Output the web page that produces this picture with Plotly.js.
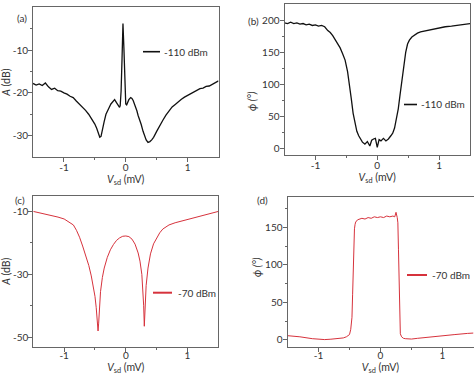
<!DOCTYPE html>
<html>
<head>
<meta charset="utf-8">
<script src="https://cdn.plot.ly/plotly-3.0.1.min.js"></script>
<style>html,body{margin:0;padding:0;background:#fff;}#chart{width:474px;height:375px;}</style>
</head>
<body>
<div id="chart"></div>
<script>
// ---- data ----
var xA = [-1.5,-1.45,-1.4,-1.35,-1.3,-1.25,-1.2,-1.15,-1.1,-1.05,-1.0,-0.95,-0.9,-0.85,-0.8,-0.75,-0.7,-0.65,-0.6,-0.55,-0.5,-0.47,-0.44,-0.42,-0.4,-0.38,-0.35,-0.32,-0.3,-0.27,-0.24,-0.21,-0.18,-0.15,-0.12,-0.1,-0.09,-0.075,-0.06,-0.045,-0.03,-0.015,0.0,0.015,0.03,0.05,0.08,0.1,0.12,0.15,0.18,0.2,0.22,0.25,0.28,0.3,0.33,0.36,0.39,0.42,0.45,0.5,0.55,0.6,0.65,0.7,0.75,0.8,0.85,0.9,0.95,1.0,1.05,1.1,1.15,1.2,1.25,1.3,1.35,1.4,1.45,1.5];
var yA = [-17.8,-18.2,-17.9,-18.3,-17.7,-18.6,-19.2,-18.9,-19.5,-19.6,-20.0,-20.3,-20.8,-21.1,-21.9,-22.6,-23.4,-24.1,-25.0,-26.1,-27.3,-28.3,-29.6,-30.4,-30.2,-28.6,-26.8,-25.0,-24.2,-23.5,-22.6,-22.0,-21.6,-22.3,-23.1,-23.4,-23.0,-19.5,-12.0,-3.8,-9.5,-17.5,-22.6,-22.8,-22.2,-21.6,-21.1,-21.3,-21.8,-22.8,-24.2,-25.3,-26.0,-27.4,-29.0,-30.0,-31.0,-31.6,-31.4,-31.0,-30.4,-29.0,-27.6,-26.4,-25.2,-24.1,-23.3,-22.7,-22.0,-21.5,-21.0,-20.6,-20.2,-19.9,-19.4,-19.0,-18.9,-18.5,-18.4,-18.0,-17.6,-17.2];

var xB = [-1.5,-1.45,-1.4,-1.35,-1.3,-1.25,-1.2,-1.15,-1.1,-1.05,-1.0,-0.95,-0.9,-0.85,-0.8,-0.76,-0.72,-0.68,-0.64,-0.6,-0.56,-0.52,-0.48,-0.45,-0.42,-0.39,-0.36,-0.33,-0.3,-0.27,-0.24,-0.2,-0.16,-0.12,-0.09,-0.06,-0.03,0.0,0.03,0.06,0.1,0.14,0.18,0.22,0.25,0.28,0.31,0.34,0.37,0.4,0.43,0.46,0.49,0.52,0.56,0.6,0.65,0.7,0.8,0.9,1.0,1.1,1.2,1.3,1.4,1.5];
var yB = [196,195,197,195,196,194,195,193,194,192,193,191,192,190,184,181,176,170,165,157,148,138,120,102,78,55,38,27,20,14,10,7,11,4,13,15,16,2,14,12,16,12,15,20,24,32,45,62,85,110,132,150,163,169,174,177,180,182,184,187,189,190,191,192,193,195];

var xC = [-1.5,-1.3,-1.1,-1.0,-0.9,-0.85,-0.8,-0.75,-0.7,-0.65,-0.6,-0.56,-0.53,-0.5,-0.48,-0.46,-0.45,-0.44,-0.43,-0.41,-0.38,-0.35,-0.3,-0.25,-0.2,-0.15,-0.1,-0.05,0.0,0.05,0.1,0.15,0.2,0.23,0.26,0.28,0.29,0.3,0.31,0.33,0.36,0.4,0.45,0.5,0.55,0.6,0.7,0.8,0.9,1.0,1.1,1.2,1.3,1.4,1.5];
var yC = [-10,-10.8,-11.8,-12.4,-13.5,-14.3,-16.0,-18.2,-21.0,-24.0,-27.2,-30.5,-33.5,-37.0,-40.5,-45.0,-48.0,-45.5,-41.0,-35.5,-31.0,-28.0,-24.6,-22.2,-20.5,-19.2,-18.4,-17.9,-17.8,-18.0,-18.8,-20.4,-23.2,-25.8,-30.0,-35.0,-40.0,-46.5,-40.0,-33.5,-28.0,-23.5,-20.3,-18.3,-16.8,-15.6,-14.3,-13.6,-13.1,-12.6,-12.0,-11.5,-11.0,-10.5,-10.0];

var xD = [-1.5,-1.3,-1.1,-1.0,-0.9,-0.8,-0.7,-0.6,-0.55,-0.5,-0.48,-0.46,-0.45,-0.44,-0.43,-0.42,-0.41,-0.4,-0.37,-0.33,-0.3,-0.25,-0.2,-0.15,-0.1,-0.05,0.0,0.05,0.1,0.15,0.2,0.23,0.25,0.27,0.28,0.29,0.3,0.31,0.32,0.34,0.37,0.4,0.5,0.6,0.7,0.8,1.0,1.2,1.4,1.5];
var yD = [5.5,4,1.5,0.5,0.3,0.8,1.5,2.5,4,7,14,30,60,105,135,148,154,157,160,161,162,161,163,162,164,163,164,163,165,164,165,164,170,163,156,120,60,20,8,4,2,1.5,1,2,3,4,6,7,8.5,9];

var xTickVals = [-1, 0, 1];
var xTickText = ["-1", "0", "1"];
var yTickValsA = [-30, -20, -10];
var yTickTextA = ["-30", "-20", "-10"];
var yTickValsB = [0, 50, 100, 150, 200];
var yTickTextB = ["0", "50", "100", "150", "200"];
var yTickValsC = [-50, -30, -10];
var yTickTextC = ["-50", "-30", "-10"];
var yTickValsD = [0, 50, 100, 150];
var yTickTextD = ["0", "50", "100", "150"];
var seriesNameHigh = "-110 dBm";
var seriesNameLow = "-70 dBm";
var xTitle = "<i>V</i><sub>sd</sub> (mV)";
var ampTitle = "<i>A</i> (dB)";
var phaseTitle = "ϕ (°)";

// ---- layout helpers ----
var W = 474, H = 375;
function px(x){ return x / W; }
function py(y){ return 1 - y / H; }
var FONT = "Lato, 'Liberation Sans', sans-serif";
var TXT = "#333";
var BLACK = "#111";
var RED = "#d6323c";

function xax(d0, d1, anchor, standoff, labelShift){
  var title = {text:xTitle, font:{family:FONT, size:10.5, color:TXT}};
  if (standoff !== null) title.standoff = standoff;
  return {domain:[px(d0), px(d1)], anchor:anchor, range:[-1.5,1.5], tickmode:"array",
    tickvals:xTickVals, ticktext:xTickText, ticks:"outside", ticklen:4, tickcolor:"#666",
    ticklabelstandoff:labelShift, automargin:false, title:title,
    showline:true, linecolor:"#666", linewidth:1, mirror:true, showgrid:false, zeroline:false,
    tickfont:{family:FONT, size:10, color:TXT},
    minor:{tickmode:"array", tickvals:[-0.5,0.5], ticks:"outside", ticklen:2, tickcolor:"#666"}};
}
function yax(d0, d1, anchor, range, tv, tt, minorVals, title){
  return {domain:[py(d1), py(d0)], anchor:anchor, range:range, tickmode:"array",
    tickvals:tv, ticktext:tt, ticks:"outside", ticklen:4, tickcolor:"#666",
    ticklabelstandoff:-2, automargin:false,
    title:{text:title, standoff:3, font:{family:FONT, size:10.5, color:TXT}},
    showline:true, linecolor:"#666", linewidth:1, mirror:true, showgrid:false, zeroline:false,
    tickfont:{family:FONT, size:10, color:TXT},
    minor:{tickmode:"array", tickvals:minorVals, ticks:"outside", ticklen:2, tickcolor:"#666"}};
}

var traces = [
  {x:xA, y:yA, xaxis:"x", yaxis:"y", type:"scatter", mode:"lines", name:seriesNameHigh, line:{color:BLACK, width:1.3}},
  {x:xB, y:yB, xaxis:"x2", yaxis:"y2", type:"scatter", mode:"lines", name:seriesNameHigh, line:{color:BLACK, width:1.3}},
  {x:xC, y:yC, xaxis:"x3", yaxis:"y3", type:"scatter", mode:"lines", name:seriesNameLow, line:{color:RED, width:1}},
  {x:xD, y:yD, xaxis:"x4", yaxis:"y4", type:"scatter", mode:"lines", name:seriesNameLow, line:{color:RED, width:1}}
];

var layout = {
  width:W, height:H, margin:{l:0,r:0,t:0,b:0}, showlegend:false,
  paper_bgcolor:"#fff", plot_bgcolor:"#fff",
  font:{family:FONT, size:10, color:TXT},
  xaxis: xax(33, 218.5, "y", 1, -3),
  yaxis: yax(7.3, 157, "x", [-35, 0], yTickValsA, yTickTextA, [-25,-15,-5], ampTitle),
  xaxis2: xax(284.5, 470, "y2", 1, -3),
  yaxis2: yax(4.3, 155, "x2", [-10, 225], yTickValsB, yTickTextB, [25,75,125,175], ""),
  xaxis3: xax(33.3, 218.3, "y3", null, -5),
  yaxis3: yax(195.7, 346.7, "x3", [-53, -5], yTickValsC, yTickTextC, [-40,-20], ampTitle),
  xaxis4: xax(287.5, 473.5, "y4", null, -5),
  yaxis4: yax(197.3, 347.3, "x4", [-10, 190], yTickValsD, yTickTextD, [25,75,125,175], ""),
  shapes: [
    {type:"line", xref:"paper", yref:"paper", x0:px(143), x1:px(160), y0:py(51.7), y1:py(51.7), line:{color:BLACK, width:1.6}},
    {type:"line", xref:"paper", yref:"paper", x0:px(404), x1:px(417), y0:py(104.5), y1:py(104.5), line:{color:BLACK, width:1.6}},
    {type:"line", xref:"paper", yref:"paper", x0:px(153), x1:px(172), y0:py(292.7), y1:py(292.7), line:{color:RED, width:2}},
    {type:"line", xref:"paper", yref:"paper", x0:px(407), x1:px(427), y0:py(275), y1:py(275), line:{color:RED, width:2}}
  ],
  annotations: [
    {text:seriesNameHigh, xref:"paper", yref:"paper", x:px(162), y:py(52), xanchor:"left", yanchor:"middle", showarrow:false, font:{size:10, color:TXT}},
    {text:seriesNameHigh, xref:"paper", yref:"paper", x:px(418.5), y:py(104.5), xanchor:"left", yanchor:"middle", showarrow:false, font:{size:10, color:TXT}},
    {text:seriesNameLow, xref:"paper", yref:"paper", x:px(175.5), y:py(293), xanchor:"left", yanchor:"middle", showarrow:false, font:{size:10, color:TXT}},
    {text:seriesNameLow, xref:"paper", yref:"paper", x:px(430), y:py(275), xanchor:"left", yanchor:"middle", showarrow:false, font:{size:10, color:TXT}},
    {text:"(a)", xref:"paper", yref:"paper", x:px(15), y:py(10), showarrow:false, font:{size:10, color:TXT}},
    {text:"(b)", xref:"paper", yref:"paper", x:px(253), y:py(13), showarrow:false, font:{size:10, color:TXT}},
    {text:"(c)", xref:"paper", yref:"paper", x:px(13), y:py(200.5), showarrow:false, font:{size:10, color:TXT}},
    {text:"(d)", xref:"paper", yref:"paper", x:px(262), y:py(200), showarrow:false, font:{size:10, color:TXT}},
    {text:phaseTitle, xref:"paper", yref:"paper", x:px(252), y:py(89), textangle:-90, showarrow:false, font:{family:FONT, size:10.5, color:TXT, style:"italic"}},
    {text:phaseTitle, xref:"paper", yref:"paper", x:px(257), y:py(279), textangle:-90, showarrow:false, font:{family:FONT, size:10.5, color:TXT, style:"italic"}}
  ]
};

Plotly.newPlot("chart", traces, layout, {staticPlot:true, displayModeBar:false});
</script>
</body>
</html>
